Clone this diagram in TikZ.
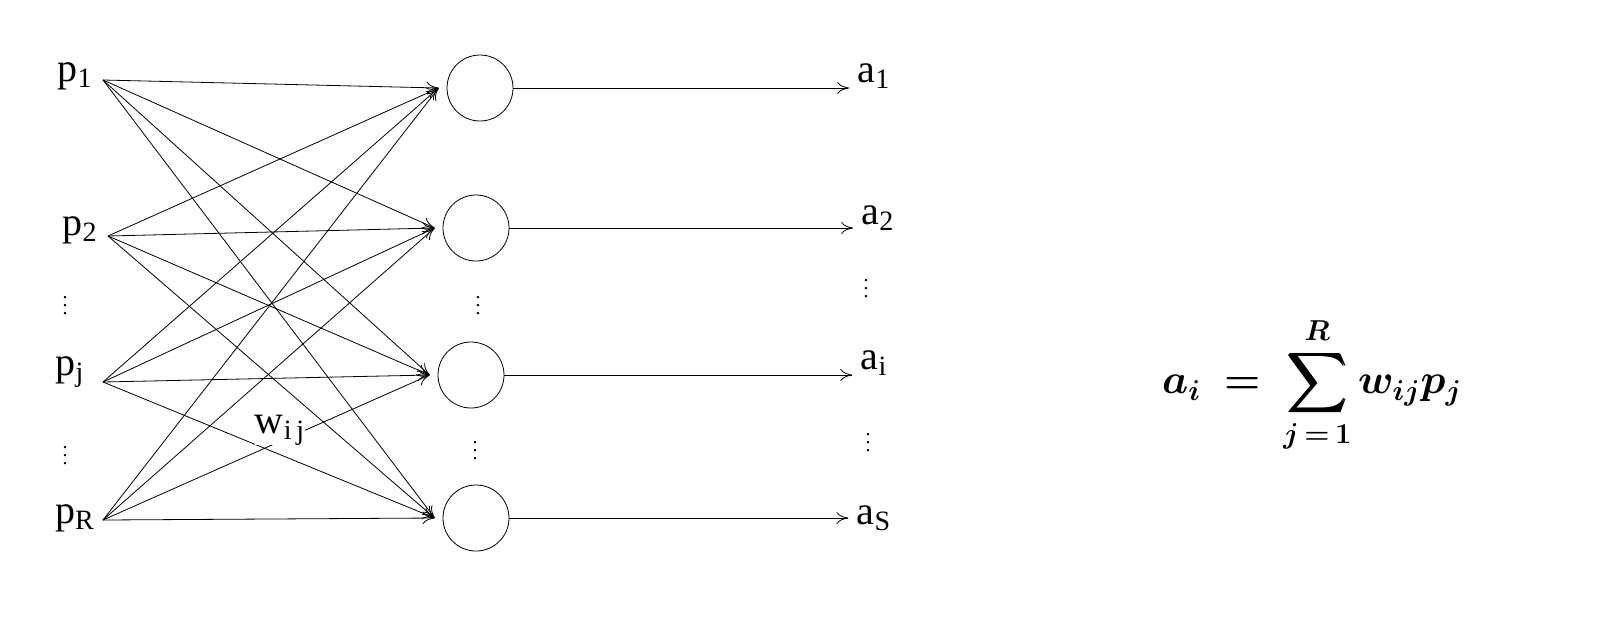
\documentclass[tikz,border=0pt]{standalone}
\usepackage{amsmath,bm}
\usepackage{fontspec}
\setmainfont{Liberation Serif}
\usetikzlibrary{arrows.meta}
\begin{document}
\begin{tikzpicture}[x=0.5pt,y=-0.5pt,
  neuron/.style={draw,circle,minimum size=33pt,inner sep=0pt},
  lbl/.style={font=\fontsize{20}{22}\selectfont,inner sep=1pt},
  dotsl/.style={font=\fontsize{10}{10}\selectfont,inner sep=0pt},
  conn/.style={-{To[length=6pt,width=6pt]},line width=0.4pt}]
\useasboundingbox (0,0) rectangle (1598,638);
\node[lbl] (p1) at (75,76) {p$_{\text{1}}$};
\node[lbl] (p2) at (80,230) {p$_{\text{2}}$};
\node[lbl] (pj) at (70,372) {p$_{\text{j}}$};
\node[lbl] (pR) at (75,518) {p$_{\text{R}}$};
\coordinate (s1) at (103,80);
\coordinate (s2) at (108,236);
\coordinate (sj) at (103,382);
\coordinate (sR) at (103,520);
\node[neuron] (n1) at (480,88) {};
\node[neuron] (n2) at (476,228) {};
\node[neuron] (n3) at (471,375) {};
\node[neuron] (n4) at (476,518) {};
\foreach \n in {1,2,3,4}{
  \coordinate (e\n) at ([xshift=-4pt]n\n.west);
}
\foreach \s in {s1,s2,sj,sR}{
  \foreach \n in {1,2,3,4}{
    \draw[conn] (\s) -- (e\n);
  }
}
\node[lbl] (a1) at (874,76) {a$_{\text{1}}$};
\node[lbl] (a2) at (878,218) {a$_{\text{2}}$};
\node[lbl] (ai) at (874,363) {a$_{\text{i}}$};
\node[lbl] (aS) at (874,518) {a$_{\text{S}}$};
\draw[conn] (n1.east) -- ([xshift=-3pt]a1.west |- n1.east);
\draw[conn] (n2.east) -- ([xshift=-3pt]a2.west |- n2.east);
\draw[conn] (n3.east) -- ([xshift=-3pt]ai.west |- n3.east);
\draw[conn] (n4.east) -- ([xshift=-3pt]aS.west |- n4.east);
\node[dotsl] (d1) at (65,300) {$\vdots$};
\node[dotsl] (d2) at (65,450) {$\vdots$};
\node[dotsl] (d3) at (478,300) {$\vdots$};
\node[dotsl] (d4) at (475,445) {$\vdots$};
\node[dotsl] (d5) at (866,283) {$\vdots$};
\node[dotsl] (d6) at (868,437) {$\vdots$};
\node[lbl,fill=white,inner sep=0pt] (w) at (280,430) {w$_{\text{i\,j}}$};
\node (f) at (1312,385) {\fontsize{20}{24}\selectfont$\displaystyle\bm{a_i\;=\;\sum_{j\,=\,1}^{R} w_{ij}p_j}$};
\end{tikzpicture}
\end{document}
